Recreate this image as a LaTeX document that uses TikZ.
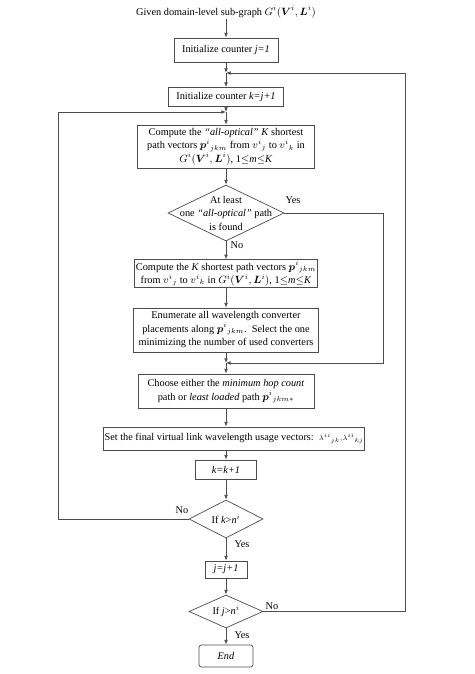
\documentclass[tikz,border=0pt]{standalone}
\usepackage{amsmath,amssymb}
\usepackage{fontspec}
\setmainfont{Liberation Serif}
\usetikzlibrary{arrows.meta,positioning,calc,shapes.geometric}
\newcommand{\flowfont}{\fontsize{8.8}{11.5}\selectfont}

\begin{document}
\begin{tikzpicture}[x=0.03cm,y=-0.03cm,
  blk/.style={rectangle,draw=black!70,line width=0.6pt,align=center,inner sep=1pt,font=\flowfont},
  dec/.style={diamond,draw=black!70,line width=0.6pt,inner sep=0pt},
  arr/.style={-{Latex[length=1.4mm,width=1.1mm]},draw=black!70,line width=0.6pt},
  lab/.style={font=\flowfont,inner sep=1pt,align=center}]
  \useasboundingbox (0,0) rectangle (474,674);
  \node[lab] (top) at (226,12) {Given domain-level sub-graph $G^i(\boldsymbol{V}^i,\boldsymbol{L}^i)$};
  \node[blk,minimum width=3.12cm,minimum height=0.72cm] (b1) at (226,50) {Initialize counter \textit{j=1}};
  \node[blk,minimum width=3.45cm,minimum height=0.57cm] (b2) at (226,97) {Initialize counter \textit{k=j+1}};
  \node[blk,minimum width=5.31cm,minimum height=1.29cm] (b3) at (226,146.5) {Compute the \textit{``all-optical''} \textit{K} shortest\\ path vectors $\boldsymbol{p}^{i}{}_{jkm}$ from $v^{i}{}_{j}$ to $v^{i}{}_{k}$ in\\ $G^i(\boldsymbol{V}^i,\boldsymbol{L}^i)$, 1$\leq$\textit{m}$\leq$\textit{K}};
  \node[dec,minimum width=3.48cm,minimum height=1.68cm] (d1) at (226,213) {};
  \node[lab] (d1t) at (d1) {At least\\ one \textit{``all-optical''} path\\ is found};
  \node[blk,minimum width=5.46cm,minimum height=0.69cm] (b4) at (226,273.5) {Compute the \textit{K} shortest path vectors $\boldsymbol{p}^{i}{}_{jkm}$\\ from $v^{i}{}_{j}$ to $v^{i}{}_{k}$ in $G^i(\boldsymbol{V}^i,\boldsymbol{L}^i)$, 1$\leq$\textit{m}$\leq$\textit{K}};
  \node[blk,minimum width=5.55cm,minimum height=1.32cm] (b5) at (226,330) {Enumerate all wavelength converter\\ placements along $\boldsymbol{p}^{i}{}_{jkm}$.\ \ Select the one\\ minimizing the number of used converters};
  \node[blk,minimum width=5.28cm,minimum height=1.02cm] (b6) at (226,391) {Choose either the \textit{minimum hop count}\\ path or \textit{least loaded} path $\boldsymbol{p}^{i}{}_{jkm*}$};
  \node[blk,minimum width=7.74cm,minimum height=0.69cm] (b7) at (234,438.5) {Set the final virtual link wavelength usage vectors:\ \ $\scriptstyle\lambda^{ii}{}_{jk},\lambda^{ii}{}_{kj}$};
  \node[blk,minimum width=1.83cm,minimum height=0.57cm] (b8) at (226,469.5) {\textit{k=k+1}};
  \node[dec,minimum width=2.22cm,minimum height=1.14cm] (d2) at (226,519) {};
  \node[lab] (d2t) at (d2) {If \textit{k}>\textit{n}$^i$};
  \node[blk,minimum width=1.26cm,minimum height=0.51cm] (b9) at (226,569.5) {\textit{j=j+1}};
  \node[dec,minimum width=2.22cm,minimum height=0.99cm] (d3) at (226,611.5) {};
  \node[lab] (d3t) at (d3) {If \textit{j}>\textit{n}$^i$};
  \node[blk,rounded corners=2pt,minimum width=1.62cm,minimum height=0.66cm] (fin) at (226,656) {\textit{End}};
  % junctions and loop corners
  \coordinate (j1) at (226,73);
  \coordinate (j2) at (226,112);
  \coordinate (j3) at (226,363);
  \coordinate (c1) at (383,363);
  \coordinate (c2) at (58,112);
  \coordinate (c3) at (405,73);
  \draw[arr] (top) -- (b1);
  \draw[arr] (b1) -- (j1);
  \draw[arr] (j1) -- (b2);
  \draw[arr] (b2) -- (j2);
  \draw[arr] (j2) -- (b3);
  \draw[arr] (b3) -- (d1);
  \draw[arr] (d1) -- (b4);
  \draw[arr] (b4) -- (b5);
  \draw[arr] (b5) -- (j3);
  \draw[arr] (j3) -- (b6);
  \draw[arr] (b6) -- (b6 |- b7.north);
  \draw[arr] (b6 |- b7.south) -- (b8);
  \draw[arr] (b8) -- (d2);
  \draw[arr] (d2) -- (b9);
  \draw[arr] (b9) -- (d3);
  \draw[arr] (d3) -- (fin);
  \draw[arr] (d1.east) -| (c1) -- (j3);
  \draw[arr] (d2.west) -| (c2) -- (j2);
  \draw[arr] (d3.east) -| (c3) -- (j1);
  % branch labels
  \node[lab] (y1) at (293,200) {Yes};
  \node[lab] (n1) at (237,245) {No};
  \node[lab] (n2) at (182,510) {No};
  \node[lab] (y2) at (242,544) {Yes};
  \node[lab] (n3) at (272,606) {No};
  \node[lab] (y3) at (242,635) {Yes};
\end{tikzpicture}
\end{document}
